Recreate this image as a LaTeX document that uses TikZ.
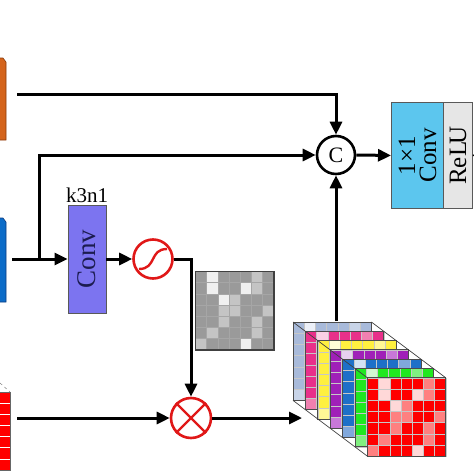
\documentclass[tikz,border=0pt]{standalone}
\usepackage{fontspec}
\setmainfont{Liberation Serif}
\usetikzlibrary{arrows.meta}
% layer colours: level 0 base, 1 medium, 2 light
\definecolor{LA0}{RGB}{168,186,218}\definecolor{LA1}{RGB}{200,212,232}\definecolor{LA2}{RGB}{236,240,248}
\definecolor{LB0}{RGB}{232,48,138}\definecolor{LB1}{RGB}{240,128,176}\definecolor{LB2}{RGB}{250,208,228}
\definecolor{LC0}{RGB}{255,240,64}\definecolor{LC1}{RGB}{255,248,150}\definecolor{LC2}{RGB}{255,255,215}
\definecolor{LD0}{RGB}{160,32,184}\definecolor{LD1}{RGB}{200,120,216}\definecolor{LD2}{RGB}{232,208,240}
\definecolor{LE0}{RGB}{30,112,200}\definecolor{LE1}{RGB}{128,168,220}\definecolor{LE2}{RGB}{210,226,244}
\definecolor{LF0}{RGB}{32,232,32}\definecolor{LF1}{RGB}{128,240,128}\definecolor{LF2}{RGB}{210,248,210}
\definecolor{LG0}{RGB}{255,0,0}\definecolor{LG1}{RGB}{255,128,128}\definecolor{LG2}{RGB}{255,216,216}
\definecolor{LH0}{RGB}{154,154,154}\definecolor{LH1}{RGB}{196,196,196}\definecolor{LH2}{RGB}{240,240,240}
\definecolor{opred}{RGB}{224,24,24}
\definecolor{cvblue}{RGB}{92,198,238}
\definecolor{relugray}{RGB}{230,230,230}
\definecolor{convpurple}{RGB}{124,116,240}
\definecolor{convtext}{RGB}{28,28,80}
\definecolor{orangeblk}{RGB}{212,100,28}
\definecolor{orangeedge}{RGB}{138,58,10}
\definecolor{blueblk}{RGB}{12,108,200}
\definecolor{blueedge}{RGB}{10,58,128}
\newcommand{\cellgrid}[5]{%
  \foreach \qr/\qlist in {0/{0,2,0,0,0,1,0},1/{0,2,0,0,2,1,0},2/{0,0,2,1,0,0,0},3/{0,0,1,1,0,0,1},4/{0,0,1,0,0,1,0},5/{0,1,0,0,0,1,0},6/{1,0,0,0,2,0,0}}{%
    \foreach \qv [count=\qc from 0] in \qlist {%
      \filldraw[fill=#4\qv, draw=#5, line width=0.5pt] ({#1+\qc*#3},{#2+\qr*#3}) rectangle ++(#3,#3);
    }%
  }%
}
\begin{document}
\begin{tikzpicture}[x=1pt,y=-1pt,
  arr/.style={line width=3pt,-{Triangle[length=13pt,width=12pt]}},
  redring/.style={circle,draw=opred,line width=2.6pt,minimum size=39pt,inner sep=0pt},
  boxedge/.style={draw=black!65,line width=0.9pt,inner sep=0pt},
  layeredge/.style={draw=black!70,line width=1pt},
  cubeline/.style={draw=black!75,line width=0.7pt},
  vlabel/.style={rotate=90,align=center,inner sep=0pt}]
\useasboundingbox (0,0) rectangle (474,474);

% left input blocks
\filldraw[fill=orangeblk,draw=orangeedge,line width=0.6pt] (-1,58) -- (3,58) -- (6,62) -- (6,140) -- (-1,140) -- cycle;
\filldraw[fill=blueblk,draw=blueedge,line width=0.6pt] (-1,218) -- (3,218) -- (6,222) -- (6,302) -- (-1,302) -- cycle;
\fill[LG0] (-1,392) rectangle (10,470);
\foreach \k in {1,...,6} \draw[white,line width=0.7pt] (-1,{392+\k*11.15}) -- (10,{392+\k*11.15});
\draw[black!60,line width=0.6pt] (-1,392) rectangle (10,470);
\draw[gray,dashed,line width=0.5pt] (0,383) -- (10,392);

% nodes
\node[circle,draw,line width=2.6pt,minimum size=38pt,inner sep=0pt,font=\fontsize{22}{22}\selectfont] (cc) at (336,155) {C};
\node[boxedge,fill=cvblue,minimum width=52pt,minimum height=106pt,anchor=north west] (cv1) at (391,102) {};
\node[boxedge,fill=relugray,minimum width=29pt,minimum height=106pt,anchor=north west] (relu) at (443,102) {};
\node[vlabel,font=\fontsize{25}{21}\selectfont] (cv1t) at (cv1.center) {1×1\\Conv};
\node[vlabel,font=\fontsize{25}{25}\selectfont] (relut) at (relu.center) {ReL\kern-2.5pt U};

\node[boxedge,fill=convpurple,minimum width=38pt,minimum height=108pt] (conv) at (87,259) {};
\node[vlabel,font=\fontsize{27}{27}\selectfont,text=convtext] (convt) at (conv.center) {Conv};
\node[anchor=base,inner sep=0pt,font=\fontsize{21}{21}\selectfont] (k3) at (87,202) {k3n1};

\node[redring] (sig) at (153,259) {};
\draw[opred,line width=2.4pt] ([shift={(-14,10)}]sig.center) .. controls ([shift={(4,10)}]sig.center) and ([shift={(-4,-10)}]sig.center) .. ([shift={(14,-10)}]sig.center);
\node[redring,minimum size=40pt] (mul) at (191,418) {};
\draw[opred,line width=2.4pt] (mul.north west) -- (mul.south east) (mul.north east) -- (mul.south west);

% gray attention map
\cellgrid{195.5}{271.5}{11.2}{LH}{black!35}
\draw[draw=black!75,line width=1.3pt] (195.5,271.5) rectangle ++(78.4,78.4);
\node[inner sep=0pt,minimum size=78.4pt,anchor=north west] (map) at (195.5,271.5) {};

% stacked feature cube
\foreach \k/\p in {0/LA,1/LB,2/LC,3/LD,4/LE,5/LF,6/LG}{
  \pgfmathsetmacro{\lx}{293+\k*12.4}
  \pgfmathsetmacro{\ly}{322+\k*9.3}
  \cellgrid{\lx}{\ly}{11.2}{\p}{black!22}
  \draw[layeredge] (\lx,\ly) rectangle ++(78.4,78.4);
}
\draw[cubeline] (293,322) -- (367.4,377.8);
\draw[cubeline] (371.4,322) -- (445.8,377.8);
\draw[cubeline] (293,400.4) -- (367.4,456.2);

% connectors
\coordinate (o1) at (17,94);
\coordinate (b1) at (12,259);
\coordinate (br) at (39,259);
\coordinate (r1) at (17,418);
\coordinate (cin) at (302,418);
\coordinate (ctop) at (336,321);
\coordinate (out) at (475,155);
\draw[arr] (o1) -| (cc.north);
\draw[arr] (b1) -- (conv.west);
\draw[arr] (br) |- (cc.west);
\draw[arr] (conv.east) -- (sig.west);
\draw[arr] (sig.east) -| (mul.north);
\draw[arr] (r1) -- (mul.west);
\draw[arr] (mul.east) -- (cin);
\draw[arr] (ctop) -- (cc.south);
\draw[arr] (cc.east) -- (cv1.west);
\draw[line width=1.5pt] (relu.east) -- (out);
\end{tikzpicture}
\end{document}
